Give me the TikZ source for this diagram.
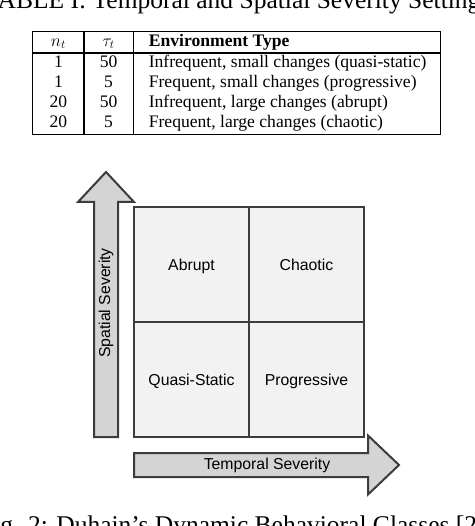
\documentclass[tikz,border=0pt]{standalone}
\usepackage{fontspec}
\setmainfont{Liberation Serif}
\newfontfamily\diagfont{Liberation Sans}
\usepackage{array}
\usepackage{tikz}
\usetikzlibrary{positioning}
\definecolor{edgegrey}{RGB}{60,60,60}
\definecolor{cellgrey}{RGB}{242,242,242}
\definecolor{axisgrey}{RGB}{212,212,212}
\tikzset{
    cell/.style={draw=edgegrey, line width=2.3pt, fill=cellgrey,
                 minimum width=115pt, minimum height=115pt, outer sep=0pt,
                 text height=11.3pt, text depth=0pt,
                 font=\diagfont\fontsize{15.8}{18}\selectfont},
    axisarrow/.style={draw=edgegrey, line width=2pt, fill=axisgrey,
                      line join=miter},
    axislabel/.style={font=\diagfont\fontsize{15.8}{18}\selectfont,
                      inner sep=0pt},
    capline/.style={font=\fontsize{25.5}{30}\selectfont, inner sep=0pt,
                    anchor=base west},
}

\begin{document}
\begin{tikzpicture}[x=1pt, y=-1pt]
    \useasboundingbox (0,0) rectangle (474,526);
    \clip (0,0) rectangle (474,526);

    \node[capline] (tabcap) at (-16,8.5)
        {TABLE I: Temporal and Spatial Severity Settings};

    \node[anchor=north west, inner sep=0pt,
          font=\fontsize{17.6}{20}\selectfont] (settings) at (32,31) {%
        \setlength{\tabcolsep}{0pt}\setlength{\arrayrulewidth}{1.2pt}%
        \begin{tabular}{|>{\centering\arraybackslash}p{50pt}|>{\centering\arraybackslash}p{48pt}|>{\hspace{15pt}}p{306pt}|}
            \hline
            $n_t$ & $\tau_t$ & \textbf{Environment Type}\\ \hline
            1  & 50 & Infrequent, small changes (quasi-static)\\
            1  & 5  & Frequent, small changes (progressive)\\
            20 & 50 & Infrequent, large changes (abrupt)\\
            20 & 5  & Frequent, large changes (chaotic)\\ \hline
        \end{tabular}};

    % behaviour classes
    \node[cell] (abrupt) at (191.5,264.5) {Abrupt};
    \node[cell, right=0pt of abrupt] (chaotic) {Chaotic};
    \node[cell, below=0pt of abrupt] (quasi) {Quasi-Static};
    \node[cell, right=0pt of quasi] (progressive) {Progressive};

    % severity axes
    \draw[axisarrow] (94,437) -- (94,202) -- (78,202) -- (106,172)
        -- (134,202) -- (118,202) -- (118,437) -- cycle;
    \node[axislabel, rotate=90] (spatial) at (106,303) {Spatial Severity};

    \draw[axisarrow] (134,453) -- (368,453) -- (368,435.5) -- (399,465)
        -- (368,494.5) -- (368,477) -- (134,477) -- cycle;
    \node[axislabel] (temporal) at (267,465) {Temporal Severity};

    \node[capline] (figcap) at (-21,533)
        {Fig. 2: Duhain’s Dynamic Behavioral Classes [2].};
\end{tikzpicture}
\end{document}
